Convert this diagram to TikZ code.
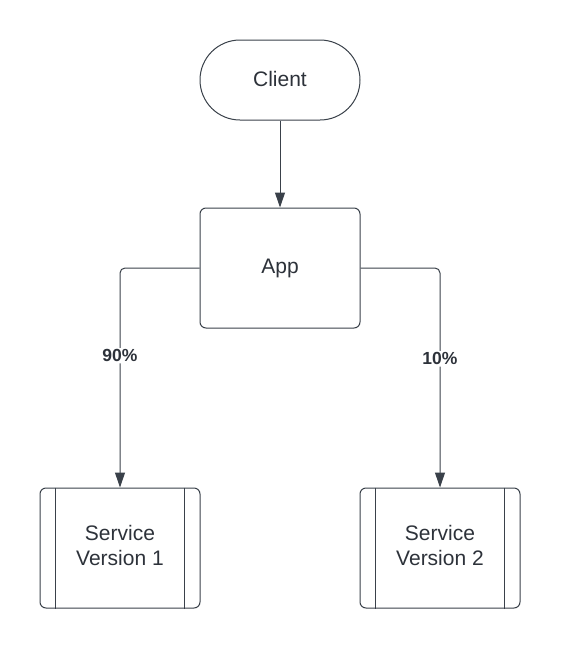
\documentclass[tikz,border=0pt]{standalone}
\usepackage{fontspec}
\setmainfont{Liberation Sans}
\usetikzlibrary{arrows.meta,calc,shapes.misc}
\definecolor{ln}{RGB}{58,65,74}
\definecolor{tx}{RGB}{45,50,58}
\begin{document}
\begin{tikzpicture}[x=1pt,y=-1pt,
  shp/.style={draw=ln,line width=1pt,fill=white,text=tx,inner sep=0pt,
    font=\fontsize{21}{26}\selectfont,align=center},
  boxr/.style={shp,rounded corners=6pt,minimum width=160pt,minimum height=120pt},
  pill/.style={shp,rounded rectangle,minimum width=160pt,minimum height=80pt},
  conn/.style={draw=ln,line width=1pt,rounded corners=5pt,-{Triangle[width=10pt,length=15pt]}},
  lbl/.style={fill=white,text=tx,inner sep=1.5pt,font=\fontsize{17.5}{20}\selectfont\bfseries}]
\useasboundingbox (0,0) rectangle (560,648);
\node[pill] (client) at (280,80) {\raisebox{2pt}{Client}};
\node[boxr] (app) at (280,268) {App};
\node[boxr] (s1) at (120,548) {\raisebox{3pt}{\begin{tabular}{@{}c@{}}Service\\[-1pt]Version 1\end{tabular}}};
\node[boxr] (s2) at (440,548) {\raisebox{3pt}{\begin{tabular}{@{}c@{}}Service\\[-1pt]Version 2\end{tabular}}};
\foreach \s in {s1,s2}{
  \draw[ln,line width=1pt] ($(\s.north west)+(16,0)$) -- ($(\s.south west)+(16,0)$);
  \draw[ln,line width=1pt] ($(\s.north east)+(-16,0)$) -- ($(\s.south east)+(-16,0)$);
}
\draw[conn] (client.south) -- (app.north);
\draw[conn] (app.west) -| (s1.north) node[lbl,pos=0.70] {90\%};
\draw[conn] (app.east) -| (s2.north) node[lbl,pos=0.707] {10\%};
\end{tikzpicture}
\end{document}
